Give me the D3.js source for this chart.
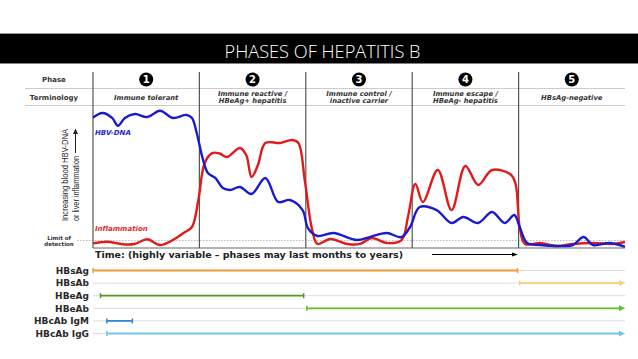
<!DOCTYPE html>
<html>
<head>
<meta charset="utf-8">
<script src="https://cdn.jsdelivr.net/npm/d3@7"></script>
<style>
  body { margin: 0; background: #fff; }
  svg { display: block; }
  .hdr { font-family: "DejaVu Sans", sans-serif; font-weight: bold; fill: #333; }
  .term { font-family: "DejaVu Sans", sans-serif; font-weight: bold; font-style: italic; fill: #333; }
</style>
</head>
<body>
<div id="chart"></div>
<script>
// phases
const phaseNums = ["1", "2", "3", "4", "5"];
const phaseTerms = [
  ["Immune tolerant"],
  ["Immune reactive /", "HBeAg+ hepatitis"],
  ["Immune control /", "inactive carrier"],
  ["Immune escape /", "HBeAg- hepatitis"],
  ["HBsAg-negative"]
];

// curves: [time in phase units, level]
const hbvDna = [
  [0, 87], [0.09, 90], [0.18, 86.7], [0.235, 81.5], [0.3, 86.7], [0.395, 89.3], [0.51, 87.3],
  [0.63, 91.5], [0.75, 86.7], [0.88, 88.7], [0.93, 86.7], [0.975, 76.7], [1.03, 60], [1.08, 50],
  [1.15, 46.7], [1.22, 40], [1.29, 38.7], [1.38, 40.7], [1.49, 36], [1.62, 46.7], [1.74, 30.7],
  [1.85, 32], [1.97, 25.3], [2.02, 13.3], [2.11, 8], [2.26, 10], [2.48, 5.3], [2.6, 7.3],
  [2.76, 10], [2.9, 7.3], [2.98, 14], [3.07, 27.3], [3.23, 25.3], [3.37, 16.7], [3.48, 20.7],
  [3.62, 16.7], [3.75, 24], [3.87, 16.7], [3.96, 22], [4.01, 14], [4.08, 3.3], [4.2, 2],
  [4.36, 1.3], [4.51, 2], [4.61, 7.3], [4.7, 2], [4.86, 3.3], [5, 0.7]
];
const inflammation = [
  [0, 3.1], [0.13, 4.2], [0.28, 2.5], [0.39, 2.7], [0.51, 5.8], [0.63, 2], [0.75, 5.3],
  [0.85, 10], [0.93, 14], [0.99, 32], [1.05, 56.7], [1.12, 63.3], [1.19, 63], [1.26, 60.7],
  [1.38, 66.7], [1.44, 62], [1.49, 47.3], [1.55, 55.3], [1.62, 70], [1.76, 70], [1.87, 72],
  [1.93, 70], [1.99, 45.3], [2.06, 12], [2.11, 2.7], [2.23, 6], [2.39, 2.7], [2.51, 2.7],
  [2.62, 6.7], [2.76, 3.3], [2.9, 5.3], [2.96, 20.7], [3.03, 42.7], [3.1, 30.7], [3.24, 52],
  [3.37, 25.3], [3.5, 54.7], [3.62, 42], [3.75, 52], [3.92, 49.3], [3.97, 43.3], [4.01, 14],
  [4.06, 2.7], [4.2, 3.3], [4.36, 1.3], [4.51, 2.7], [4.7, 3.3], [4.89, 2.7], [5, 4]
];
const limitOfDetection = 5;

// serology markers
const markerNames = ["HBsAg", "HBsAb", "HBeAg", "HBeAb", "HBcAb IgM", "HBcAb IgG"];
const markerStart = [0, 4.01, 0.07, 2.01, 0.13, 0.13];
const markerEnd = [3.99, 5, 1.98, 5, 0.37, 5];
const markerArrow = [false, true, false, true, false, true];
const markerColors = ["#ef9a3a", "#f7cf7a", "#4f9a22", "#5fc02a", "#2f86d6", "#72c4f0"];

const W = 638, H = 359;
const svg = d3.select("#chart").append("svg").attr("width", W).attr("height", H);

// title bar
svg.append("rect").attr("x", 0).attr("y", 33).attr("width", W).attr("height", 1).attr("fill", "#999");
svg.append("rect").attr("x", 0).attr("y", 34).attr("width", W).attr("height", 29.5).attr("fill", "#000");
svg.append("text").attr("x", 322.5).attr("y", 57.5).attr("text-anchor", "middle")
  .attr("textLength", 196).attr("lengthAdjust", "spacingAndGlyphs")
  .style("font-family", "Open Sans").style("font-weight", 300).style("font-size", "19px")
  .attr("fill", "#fff").text("PHASES OF HEPATITIS B");

const x = d3.scaleLinear().domain([0, 5]).range([93, 625]);
const y = d3.scaleLinear().domain([0, 100]).range([248, 98]);

// header grid
[88.5, 105.5].forEach(v => {
  svg.append("line").attr("x1", 25).attr("x2", x(5)).attr("y1", v).attr("y2", v)
    .attr("stroke", "#ccc").attr("stroke-width", 1);
});
svg.append("text").attr("class", "hdr").attr("x", 54).attr("y", 81.5).attr("text-anchor", "middle")
  .style("font-size", "7px").text("Phase");
svg.append("text").attr("class", "hdr").attr("x", 54).attr("y", 99.5).attr("text-anchor", "middle")
  .style("font-size", "7px").text("Terminology");

// limit of detection
svg.append("line").attr("x1", 77).attr("x2", x(5)).attr("y1", y(limitOfDetection)).attr("y2", y(limitOfDetection))
  .attr("stroke", "#aaa").attr("stroke-dasharray", "1.5,1.5").attr("stroke-width", 0.8);
svg.append("text").attr("class", "hdr").attr("x", 59).attr("y", 240).attr("text-anchor", "middle")
  .style("font-size", "5.5px").text("Limit of");
svg.append("text").attr("class", "hdr").attr("x", 59).attr("y", 246).attr("text-anchor", "middle")
  .style("font-size", "5.5px").text("detection");

// phase separators
svg.selectAll(".sep").data([0, 1, 2, 3, 4]).enter().append("line")
  .attr("class", "sep")
  .attr("x1", d => x(d)).attr("x2", d => x(d)).attr("y1", 72).attr("y2", y(0))
  .attr("stroke", "#555").attr("stroke-width", 1.2);
svg.append("line").attr("x1", x(0)).attr("x2", x(5)).attr("y1", y(0)).attr("y2", y(0))
  .attr("stroke", "#666").attr("stroke-width", 1.2);

// phase numbers
const ph = svg.selectAll(".ph").data(phaseNums).enter().append("g")
  .attr("transform", (d, i) => `translate(${x(i + 0.5)},79.5)`);
ph.append("circle").attr("r", 7).attr("fill", "#000");
ph.append("text").attr("text-anchor", "middle").attr("y", 3.6)
  .style("font-family", "DejaVu Sans").style("font-weight", "bold").style("font-size", "10px")
  .attr("fill", "#fff").text(d => d);

// terminology
phaseTerms.forEach((lines, i) => {
  const y0 = lines.length === 1 ? 99.5 : 95.5;
  lines.forEach((t, j) => {
    svg.append("text").attr("class", "term").attr("x", x(i + 0.5)).attr("y", y0 + j * 7.5)
      .attr("text-anchor", "middle").style("font-size", "6.8px").text(t);
  });
});

// curves
const line = d3.line().x(d => x(d[0])).y(d => y(d[1])).curve(d3.curveCatmullRom.alpha(0.5));
svg.append("path").datum(inflammation).attr("d", line).attr("fill", "none")
  .attr("stroke", "#e01b1b").attr("stroke-width", 2.4);
svg.append("path").datum(hbvDna).attr("d", line).attr("fill", "none")
  .attr("stroke", "#1a1ad0").attr("stroke-width", 2.4);

svg.append("text").attr("class", "term").attr("x", 95).attr("y", 135)
  .style("fill", "#2626d0").style("font-size", "7px").text("HBV-DNA");
svg.append("text").attr("class", "term").attr("x", 95).attr("y", 231)
  .style("fill", "#e02a2a").style("font-size", "7px").text("Inflammation");

// y label
svg.append("text").attr("transform", "translate(68,221) rotate(-90)")
  .attr("textLength", 92).attr("lengthAdjust", "spacingAndGlyphs")
  .style("font-family", "Liberation Sans").style("font-size", "9.5px").attr("fill", "#222")
  .text("Increasing blood HBV-DNA");
svg.append("text").attr("transform", "translate(78.5,221) rotate(-90)")
  .attr("textLength", 65).attr("lengthAdjust", "spacingAndGlyphs")
  .style("font-family", "Liberation Sans").style("font-size", "9.5px").attr("fill", "#222")
  .text("or liver inflammation");
svg.append("line").attr("x1", 75.5).attr("x2", 75.5).attr("y1", 153).attr("y2", 132)
  .attr("stroke", "#222").attr("stroke-width", 1);
svg.append("path").attr("d", "M73,134 L75.5,128.5 L78,134 Z").attr("fill", "#222");

// time label and arrow
svg.append("text").attr("class", "hdr").attr("x", 95).attr("y", 257.5)
  .attr("textLength", 308).attr("lengthAdjust", "spacingAndGlyphs")
  .style("font-size", "8.8px").style("fill", "#222")
  .text("Time: (highly variable \u2013 phases may last months to years)");
svg.append("line").attr("x1", 432).attr("x2", 514).attr("y1", 254.5).attr("y2", 254.5)
  .attr("stroke", "#000").attr("stroke-width", 1);
svg.append("path").attr("d", "M512,252.5 L518,254.5 L512,256.5 Z").attr("fill", "#000");

// serology rows
const rowY = d3.scalePoint().domain(markerNames).range([270.5, 333.5]);
markerNames.forEach((name, i) => {
  const yy = rowY(name);
  svg.append("text").attr("class", "hdr").attr("x", 89).attr("y", yy + 3.2)
    .attr("text-anchor", "end").style("font-size", "9px").style("fill", "#2a2a2a").text(name);
  svg.append("line").attr("x1", x(0)).attr("x2", x(5)).attr("y1", yy).attr("y2", yy)
    .attr("stroke", "#ddd").attr("stroke-width", 1);
  const c = markerColors[i];
  const x1 = x(markerStart[i]);
  const x2 = x(markerEnd[i]) - (markerArrow[i] ? 6 : 0);
  svg.append("line").attr("x1", x1).attr("x2", x2).attr("y1", yy).attr("y2", yy)
    .attr("stroke", c).attr("stroke-width", 1.8);
  svg.append("line").attr("x1", x1).attr("x2", x1).attr("y1", yy - 2.5).attr("y2", yy + 2.5)
    .attr("stroke", c).attr("stroke-width", 1.5);
  if (markerArrow[i]) {
    svg.append("path").attr("d", `M${x2},${yy - 3} L${x(markerEnd[i])},${yy} L${x2},${yy + 3} Z`).attr("fill", c);
  } else {
    svg.append("line").attr("x1", x2).attr("x2", x2).attr("y1", yy - 2.5).attr("y2", yy + 2.5)
      .attr("stroke", c).attr("stroke-width", 1.5);
  }
});
</script>
</body>
</html>
